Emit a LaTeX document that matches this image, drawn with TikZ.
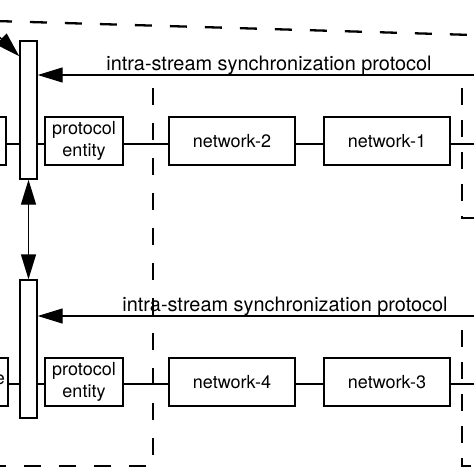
\documentclass[tikz,border=0pt]{standalone}
\usepackage{fontspec}
\setmainfont{TeX Gyre Heros}
\usetikzlibrary{arrows.meta}
\begin{document}
\begin{tikzpicture}[x=1pt,y=-1pt,
  box/.style={draw,line width=1.4pt,minimum width=78pt,minimum height=48pt,inner sep=0pt,font=\fontsize{18}{21.5}\selectfont,align=center},
  netbox/.style={box,minimum width=126pt},
  barbox/.style={draw,line width=1.4pt,minimum width=17pt,minimum height=138pt,inner sep=0pt},
  conn/.style={line width=1.4pt},
  arr/.style={line width=1.4pt,-{Triangle[length=25pt,width=15pt]}},
  dbl/.style={line width=1.4pt,{Triangle[length=25pt,width=15pt]}-{Triangle[length=25pt,width=15pt]}},
  dsh/.style={line width=2.3pt,dash pattern=on 17pt off 18pt},
  dshr/.style={line width=2.3pt,dash pattern=on 17pt off 15pt},
  lbl/.style={font=\fontsize{19.9}{23}\selectfont,inner sep=0pt,anchor=base}]
\useasboundingbox (0,0) rectangle (474,474);
\clip (0,0) rectangle (474,474);
\fill[white] (0,0) rectangle (474,474);

% dashed frames
\draw[dsh] (-5,21) -- (480,35.2);
\draw[dsh] (153,88) -- (153,466) -- (-5,466);
\draw[dshr] (462,88) -- (462,218) -- (480,218);
\draw[dshr] (462,330) -- (462,466) -- (480,466);

% upper row
\node[barbox] (bar1) at (28.5,110) {};
\node[box,minimum width=76pt] (lb1) at (-32,141) {};
\node[box] (pe1) at (84,141) {protocol\\entity};
\node[netbox] (n2) at (232,141) {network-2};
\node[netbox] (n1) at (387,141) {network-1};
\coordinate (r1) at (480,144);
\draw[conn] ([yshift=-3pt]lb1.east) -- ([yshift=-3pt]lb1.east -| bar1.west);
\draw[conn] ([yshift=-3pt]pe1.west -| bar1.east) -- ([yshift=-3pt]pe1.west);
\draw[conn] ([yshift=-3pt]pe1.east) -- ([yshift=-3pt]n2.west);
\draw[conn] ([yshift=-3pt]n2.east) -- ([yshift=-3pt]n1.west);
\draw[conn] ([yshift=-3pt]n1.east) -- (r1);
\coordinate (s1) at (480,75);
\draw[arr] (s1) -- (s1 -| bar1.east);
\node[lbl] (t1) at (269,70) {intra-stream synchronization protocol};
\coordinate (d0) at (-12,26);
\draw[arr] (d0) -- ([yshift=-16pt]bar1.north west);

% lower row
\node[barbox] (bar2) at (28.5,349) {};
\node[box] (lb2) at (-31,382) {};
\node[font=\fontsize{18}{21.5}\selectfont,inner sep=0pt,anchor=east] (e2) at (5,380) {e};
\node[box] (pe2) at (84,382) {protocol\\entity};
\node[netbox] (n4) at (232,382) {network-4};
\node[netbox] (n3) at (387,382) {network-3};
\coordinate (r2) at (480,384);
\draw[conn] ([yshift=-2pt]lb2.east) -- ([yshift=-2pt]lb2.east -| bar2.west);
\draw[conn] ([yshift=-2pt]pe2.west -| bar2.east) -- ([yshift=-2pt]pe2.west);
\draw[conn] ([yshift=-2pt]pe2.east) -- ([yshift=-2pt]n4.west);
\draw[conn] ([yshift=-2pt]n4.east) -- ([yshift=-2pt]n3.west);
\draw[conn] ([yshift=-2pt]n3.east) -- (r2);
\coordinate (s2) at (480,316);
\draw[arr] (s2) -- (s2 -| bar2.east);
\node[lbl] (t2) at (285,311) {intra-stream synchronization protocol};

% between bars
\draw[dbl] (bar1.south) -- (bar2.north);
\end{tikzpicture}
\end{document}
